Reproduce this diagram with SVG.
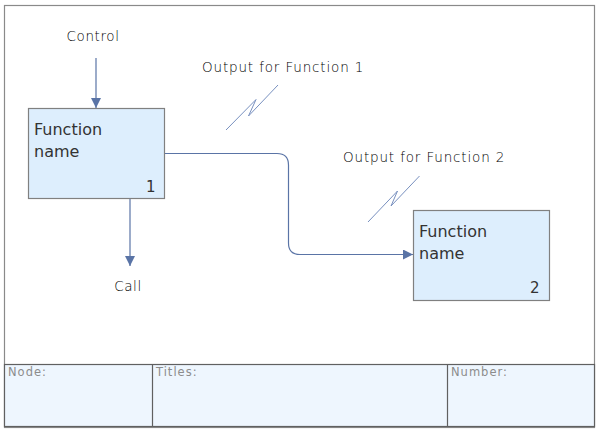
<svg xmlns="http://www.w3.org/2000/svg" width="599" height="435" viewBox="0 0 599 435">
<style>
.frame{fill:#ffffff;stroke:#8a8a8a;stroke-width:1.2}
.foot{fill:#eef6fe;stroke:#606060;stroke-width:1.2}
.box{fill:#ddeefd;stroke:#808080;stroke-width:1.2}
.conn{fill:none;stroke:#5a74a6;stroke-width:1.2}
.zig{fill:none;stroke:#7890bf;stroke-width:1}
.lbl{font-family:"DejaVu Sans",Verdana,sans-serif;font-size:13.5px;fill:#000;font-weight:300;letter-spacing:0.6px}
.lbl2{letter-spacing:0.85px}
.name{font-family:"DejaVu Sans",Verdana,sans-serif;font-size:16px;fill:#333}
.num{font-family:"DejaVu Sans",Verdana,sans-serif;font-size:15px;fill:#333}
.ft{font-family:"DejaVu Sans",Verdana,sans-serif;font-size:11.5px;fill:#8c8c8c;letter-spacing:1px}
</style>
<defs>
<marker id="ah" viewBox="0 0 10 10" refX="10" refY="5" markerWidth="10" markerHeight="10" markerUnits="userSpaceOnUse" orient="auto">
<path d="M0,0 L10,5 L0,10 Z" fill="#5a74a6"/>
</marker>
</defs>
<rect class="frame" x="4.5" y="5.5" width="590" height="422"/>
<g id="footer">
<rect class="foot" x="4.5" y="364.5" width="590" height="62"/>
<line x1="152.5" y1="364.5" x2="152.5" y2="426.5" stroke="#606060" stroke-width="1.2"/>
<line x1="447.5" y1="364.5" x2="447.5" y2="426.5" stroke="#606060" stroke-width="1.2"/>
<text class="ft" x="8" y="376">Node:</text>
<text class="ft" x="156" y="376">Titles:</text>
<text class="ft" x="451" y="376">Number:</text>
</g>
<g id="connectors">
<line class="conn" x1="96" y1="58" x2="96" y2="108" marker-end="url(#ah)"/>
<line class="conn" x1="130" y1="199" x2="130" y2="266" marker-end="url(#ah)"/>
<path class="conn" d="M164,153.5 H277 Q288.5,153.5 288.5,165 V243 Q288.5,254.5 300,254.5 H413" marker-end="url(#ah)"/>
<path class="zig" d="M226,130 L256,99.5 L248.5,116 L278,85"/>
<path class="zig" d="M368,222 L397.5,191 L391,206 L419.5,176"/>
</g>
<g id="node1">
<rect class="box" x="28.5" y="108.5" width="136" height="90"/>
<text class="name" x="34" y="135">Function</text>
<text class="name" x="34" y="157">name</text>
<text class="num" x="146" y="192">1</text>
</g>
<g id="node2">
<rect class="box" x="413.5" y="210.5" width="136" height="90"/>
<text class="name" x="419" y="237">Function</text>
<text class="name" x="419" y="259">name</text>
<text class="num" x="530" y="293">2</text>
</g>
<g id="labels">
<text class="lbl" x="93" y="41" text-anchor="middle">Control</text>
<text class="lbl" x="128" y="291" text-anchor="middle">Call</text>
<text class="lbl lbl2" x="202" y="72">Output for Function 1</text>
<text class="lbl lbl2" x="343" y="162">Output for Function 2</text>
</g>
</svg>
